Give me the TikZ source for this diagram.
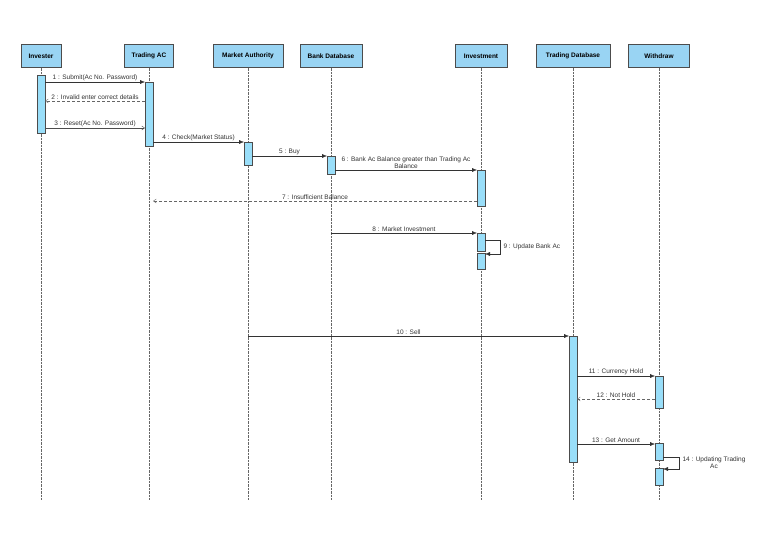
\documentclass[tikz,border=0pt]{standalone}
\usepackage{fontspec}
\setmainfont{Liberation Sans}
\usetikzlibrary{arrows.meta}
\begin{document}
\begin{tikzpicture}[x=1pt,y=-1pt,font=\fontsize{6.5}{7}\selectfont,
  head/.style={draw=black!70,fill=cyan!35!blue!20!cyan!40,minimum height=23pt,inner sep=2pt,font=\fontsize{6.5}{7}\selectfont\bfseries},
  life/.style={densely dotted,black!60},
  act/.style={draw=black!70,fill=cyan!40},
  msg/.style={black!80,-{Latex[length=5pt,width=4pt]}},
  ret/.style={black!60,densely dashed,-{Straight Barb[length=3pt,width=4pt]}},
  lbl/.style={above,inner sep=1pt,text=black!80}]
\useasboundingbox (0,0) rectangle (768,543);
% Lifeline heads
\node[head,minimum width=40pt] (inv) at (41,56) {Invester};
\node[head,minimum width=49pt] (tra) at (149,56) {Trading AC};
\node[head,minimum width=70pt] (mar) at (248,56) {Market Authority};
\node[head,minimum width=62pt] (ban) at (331,56) {Bank Database};
\node[head,minimum width=52pt] (ivt) at (481,56) {Investment};
\node[head,minimum width=74pt] (tdb) at (573,56) {Trading Database};
\node[head,minimum width=61pt] (wit) at (659,56) {Withdraw};
% Lifelines
\foreach \n/\x in {inv/41,tra/149,mar/248,ban/331,ivt/481,tdb/573,wit/659}
  \draw[life] (\n.south) -- (\x,500);
% Activations
\draw[act] (37,75) rectangle (45,133);
\draw[act] (145,82) rectangle (153,146);
\draw[act] (244,142) rectangle (252,165);
\draw[act] (327,156) rectangle (335,174);
\draw[act] (477,170) rectangle (485,206);
\draw[act] (477,233) rectangle (485,251);
\draw[act] (477,253) rectangle (485,269);
\draw[act] (569,336) rectangle (577,462);
\draw[act] (655,376) rectangle (663,408);
\draw[act] (655,443) rectangle (663,460);
\draw[act] (655,468) rectangle (663,485);
% Messages
\draw[msg] (45,82) -- node[lbl]{1 : Submit(Ac No. Password)} (145,82);
\draw[ret] (145,101) -- node[lbl]{2 : Invalid enter correct details} (45,101);
\draw[black!70,-{Straight Barb[length=3pt,width=4pt]}] (45,128) -- node[lbl]{3 : Reset(Ac No. Password)} (145,128);
\draw[msg] (153,142) -- node[lbl]{4 : Check(Market Status)} (244,142);
\draw[msg] (252,156) -- node[lbl]{5 : Buy} (327,156);
\draw[msg] (335,170) -- node[lbl,align=center]{6 : Bank Ac Balance greater than Trading Ac\\Balance} (477,170);
\draw[ret] (477,201) -- node[lbl]{7 : Insufficient Balance} (153,201);
\draw[msg] (331,233) -- node[lbl]{8 : Market Investment} (477,233);
\draw[msg] (485,240) -- (500,240) -- node[right,text=black!80]{9 : Update Bank Ac} (500,254) -- (485,254);
\draw[msg] (248,336) -- node[lbl]{10 : Sell} (569,336);
\draw[msg] (577,376) -- node[lbl]{11 : Currency Hold} (655,376);
\draw[ret] (655,399) -- node[lbl]{12 : Not Hold} (577,399);
\draw[msg] (577,444) -- node[lbl]{13 : Get Amount} (655,444);
\draw[msg] (663,457) -- (679,457) -- node[right,align=center,text=black!80]{14 : Updating Trading\\Ac} (679,469) -- (663,469);
\end{tikzpicture}
\end{document}
